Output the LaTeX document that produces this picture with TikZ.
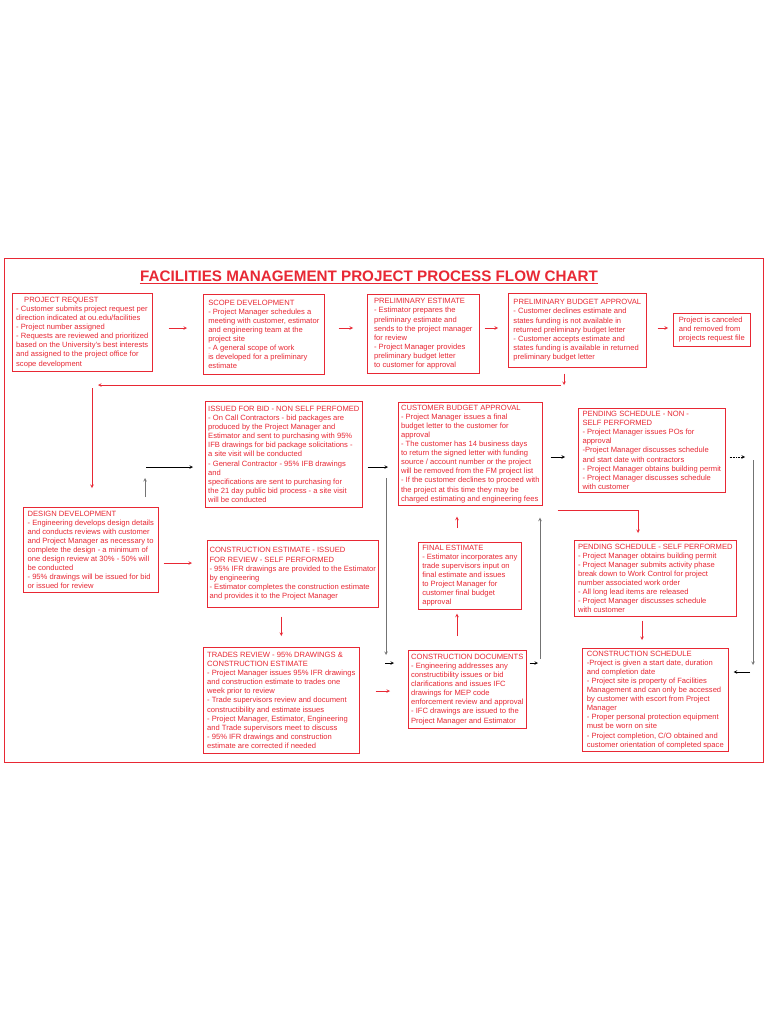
\documentclass[tikz,border=0pt]{standalone}
\usepackage{fontspec}
\setmainfont{Liberation Sans}
\definecolor{fmred}{RGB}{232,40,52}

\begin{document}
\begin{tikzpicture}[x=1pt, y=-1pt, >=stealth,
  fmbox/.style={draw=fmred, text=fmred, anchor=north west, align=left, inner sep=2pt, line width=0.6pt, font=\fontsize{7.6}{9.1}\selectfont},
  fmarrow/.style={->, draw=fmred, line width=0.6pt},
  blkarrow/.style={->, draw=black, line width=0.6pt},
  greyarrow/.style={->, draw=black!55, line width=0.6pt}]

  \fill[white] (0,0) rectangle (768,1024);
  \draw[fmred, line width=0.8pt] (4,258) rectangle (763,762);

  % Title
  \node[text=fmred, font=\fontsize{15.2}{18}\selectfont\bfseries, inner sep=0pt, anchor=base] (title) at (369,281) {FACILITIES MANAGEMENT PROJECT PROCESS FLOW CHART};
  \draw[fmred, line width=1.1pt] ([yshift=-2.5pt]title.base west) -- ([yshift=-2.5pt]title.base east);

  % Top row
  \node[fmbox, minimum width=140, minimum height=78] (req) at (12,293) {\hspace*{8pt}PROJECT REQUEST\\
    - Customer submits project request per\\
    direction indicated at ou.edu/facilities\\
    - Project number assigned\\
    - Requests are reviewed and prioritized\\
    based on the University's best interests\\
    and assigned to the project office for\\
    scope development};
  \node[fmbox, minimum width=121, minimum height=80] (scope) at (203,294) {SCOPE DEVELOPMENT\\
    - Project Manager schedules a\\
    meeting with customer, estimator\\
    and engineering team at the\\
    project site\\
    - A general scope of work\\
    is developed for a preliminary\\
    estimate};
  \node[fmbox, minimum width=112, minimum height=79] (prelim) at (367,294) {PRELIMINARY ESTIMATE\\
    - Estimator prepares the\\
    preliminary estimate and\\
    sends to the project manager\\
    for review\\
    - Project Manager provides\\
    preliminary budget letter\\
    to customer for approval};
  \node[fmbox, minimum width=138, minimum height=74] (budget) at (508,293) {PRELIMINARY BUDGET APPROVAL\\
    - Customer declines estimate and\\
    states funding is not available in\\
    returned preliminary budget letter\\
    - Customer accepts estimate and\\
    states funding is available in returned\\
    preliminary budget letter};
  \node[fmbox, minimum width=77, minimum height=33] (cancel) at (673,313) {Project is canceled\\
    and removed from\\
    projects request file};

  % Middle rows
  \node[fmbox, minimum width=157, minimum height=106] (bid) at (205,401) {ISSUED FOR BID - NON SELF PERFOMED\\
    - On Call Contractors - bid packages are\\
    produced by the Project Manager and\\
    Estimator and sent to purchasing with 95\%\\
    IFB drawings for bid package solicitations -\\
    a site visit will be conducted\\
    - General Contractor - 95\% IFB drawings\\
    and\\
    specifications are sent to purchasing for\\
    the 21 day public bid process - a site visit\\
    will be conducted};
  \node[fmbox, minimum width=144, minimum height=103] (custbudget) at (398,402) {CUSTOMER BUDGET APPROVAL\\
    - Project Manager issues a final\\
    budget letter to the customer for\\
    approval\\
    - The customer has 14 business days\\
    to return the signed letter with funding\\
    source / account number or the project\\
    will be removed from the FM project list\\
    - If the customer declines to proceed with\\
    the project at this time they may be\\
    charged estimating and engineering fees};
  \node[fmbox, minimum width=147, minimum height=84] (pendnon) at (578,408) {PENDING SCHEDULE - NON -\\
    SELF PERFORMED\\
    - Project Manager issues POs for\\
    approval\\
    -Project Manager discusses schedule\\
    and start date with contractors\\
    - Project Manager obtains building permit\\
    - Project Manager discusses schedule\\
    with customer};
  \node[fmbox, minimum width=135, minimum height=85] (design) at (23,507) {DESIGN DEVELOPMENT\\
    - Engineering develops design details\\
    and conducts reviews with customer\\
    and Project Manager as necessary to\\
    complete the design - a minimum of\\
    one design review at 30\% - 50\% will\\
    be conducted\\
    - 95\% drawings will be issued for bid\\
    or issued for review};
  \node[fmbox, minimum width=171, minimum height=67] (conest) at (207,540) {CONSTRUCTION ESTIMATE - ISSUED\\
    FOR REVIEW - SELF PERFORMED\\
    - 95\% IFR drawings are provided to the Estimator\\
    by engineering\\
    - Estimator completes the construction estimate\\
    and provides it to the Project Manager};
  \node[fmbox, minimum width=103, minimum height=67] (final) at (418,542) {FINAL ESTIMATE\\
    - Estimator incorporates any\\
    trade supervisors input on\\
    final estimate and issues\\
    to Project Manager for\\
    customer final budget\\
    approval};
  \node[fmbox, minimum width=162, minimum height=76] (pendself) at (574,540) {PENDING SCHEDULE - SELF PERFORMED\\
    - Project Manager obtains building permit\\
    - Project Manager submits activity phase\\
    break down to Work Control for project\\
    number associated work order\\
    - All long lead items are released\\
    - Project Manager discusses schedule\\
    with customer};

  % Bottom row
  \node[fmbox, minimum width=156, minimum height=106] (trades) at (203,647) {TRADES REVIEW - 95\% DRAWINGS \&\\
    CONSTRUCTION ESTIMATE\\
    - Project Manager issues 95\% IFR drawings\\
    and construction estimate to trades one\\
    week prior to review\\
    - Trade supervisors review and document\\
    constructibility and estimate issues\\
    - Project Manager, Estimator, Engineering\\
    and Trade supervisors meet to discuss\\
    - 95\% IFR drawings and construction\\
    estimate are corrected if needed};
  \node[fmbox, minimum width=118, minimum height=78] (condocs) at (408,650) {CONSTRUCTION DOCUMENTS\\
    - Engineering addresses any\\
    constructibility issues or bid\\
    clarifications and issues IFC\\
    drawings for MEP code\\
    enforcement review and approval\\
    - IFC drawings are issued to the\\
    Project Manager and Estimator};
  \node[fmbox, minimum width=146, minimum height=103] (consched) at (582,648) {CONSTRUCTION SCHEDULE\\
    -Project is given a start date, duration\\
    and completion date\\
    - Project site is property of Facilities\\
    Management and can only be accessed\\
    by customer with escort from Project\\
    Manager\\
    - Proper personal protection equipment\\
    must be worn on site\\
    - Project completion, C/O obtained and\\
    customer orientation of completed space};

  % Bend points
  \coordinate (row1) at (0,328);
  \coordinate (bendA) at (564,385);
  \coordinate (bendB) at (92,385);
  \coordinate (bidTurn) at (145,467);
  \coordinate (splitA) at (386,467);
  \coordinate (splitB) at (386,663);
  \coordinate (upC) at (540,663);
  \coordinate (rtA) at (753,457);
  \coordinate (rtB) at (753,672);
  \coordinate (rdA) at (638,510);
  \coordinate (row4) at (0,563);
  \coordinate (row5) at (0,691);
  \coordinate (colF) at (457,620);
  \coordinate (colG) at (642,630);

  % Red connectors
  \draw[fmarrow, shorten <=16pt, shorten >=16pt] (req.east |- row1) -- (scope.west |- row1);
  \draw[fmarrow, shorten <=14pt, shorten >=14pt] (scope.east |- row1) -- (prelim.west |- row1);
  \draw[fmarrow, shorten <=5pt, shorten >=10pt] (prelim.east |- row1) -- (budget.west |- row1);
  \draw[fmarrow, shorten <=11pt, shorten >=5pt] (budget.east |- row1) -- (cancel.west |- row1);
  \draw[fmarrow, shorten <=6pt] (budget.south -| bendA) -- (bendA);
  \draw[fmarrow, shorten <=3pt, shorten >=6pt] (bendA) -- (bendB);
  \draw[fmarrow, shorten <=3pt, shorten >=19pt] (bendB) -- (design.north -| bendB);
  \draw[fmarrow, shorten <=5pt, shorten >=15pt] (design.east |- row4) -- (conest.west |- row4);
  \draw[fmarrow, shorten <=15pt, shorten >=7pt] (custbudget.south east |- rdA) -- (rdA) -- (pendself.north -| rdA);
  \draw[fmarrow, shorten <=9pt, shorten >=11pt] (conest.south -| trades.north) -- (trades.north);
  \draw[fmarrow, shorten <=16pt, shorten >=18pt] (trades.east |- row5) -- (condocs.west |- row5);
  \draw[fmarrow, shorten <=14pt, shorten >=4pt] (condocs.north -| colF) -- (final.south -| colF);
  \draw[fmarrow, shorten <=14pt, shorten >=11pt] (final.north -| colF) -- (custbudget.south -| colF);
  \draw[fmarrow, shorten <=4pt, shorten >=8pt] (pendself.south -| colG) -- (consched.north -| colG);

  % Black connectors
  \draw[greyarrow, shorten <=10pt, shorten >=11pt] (design.north -| bidTurn) -- (bidTurn);
  \draw[blkarrow, shorten <=1pt, shorten >=12pt] (bidTurn) -- (bid.west |- bidTurn);
  \draw[blkarrow, shorten <=5pt, shorten >=10pt] (bid.east |- splitA) -- (custbudget.west |- splitA);
  \draw[greyarrow, shorten <=11pt, shorten >=8pt] (splitA) -- (splitB);
  \draw[blkarrow, shorten <=-1pt, shorten >=14pt] (splitB) -- (condocs.west |- splitB);
  \draw[blkarrow, shorten <=3pt, shorten >=2pt] (condocs.east |- upC) -- (upC);
  \draw[greyarrow, shorten <=4pt, shorten >=12pt] (upC) -- (custbudget.south -| upC);
  \draw[blkarrow, shorten <=8pt, shorten >=13pt] (custbudget.east |- rtA) -- (pendnon.west |- rtA);
  \draw[blkarrow, densely dotted, shorten <=4pt, shorten >=8pt] (pendnon.east |- rtA) -- (rtA);
  \draw[greyarrow, shorten <=3pt, shorten >=7pt] (rtA) -- (rtB);
  \draw[blkarrow, shorten <=3pt, shorten >=5pt] (rtB) -- (consched.east |- rtB);

\end{tikzpicture}
\end{document}
